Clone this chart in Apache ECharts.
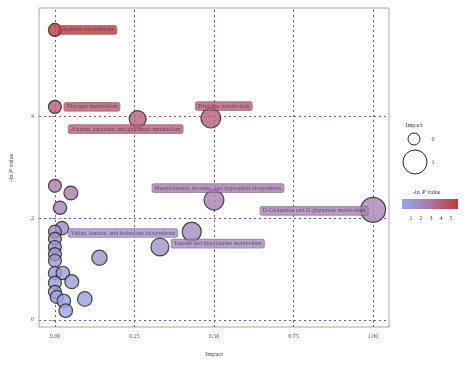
<!DOCTYPE html>
<html><head><meta charset="utf-8">
<script src="https://cdn.jsdelivr.net/npm/echarts@6/dist/echarts.min.js"></script>
<style>html,body{margin:0;padding:0;background:#fff}#c{width:474px;height:366px}</style>
</head><body><div id="c"></div>
<script>
// ---- data ----
const impact = [0, 0, 0.26, 0.49, 0.50, 1.00, 0.43, 0.33, 0, 0.05, 0.016, 0.022, 0, 0, 0, 0, 0, 0.14, 0, 0.025, 0.053, 0, 0, 0.006, 0.028, 0.094, 0.034];
const negLnP = [5.69, 4.18, 3.94, 3.96, 2.35, 2.16, 1.73, 1.43, 2.63, 2.49, 2.20, 1.80, 1.73, 1.59, 1.43, 1.29, 1.16, 1.22, 0.92, 0.92, 0.75, 0.73, 0.55, 0.45, 0.37, 0.41, 0.18];
const pathway = ["Arginine biosynthesis", "Nitrogen metabolism", "Alanine, aspartate, and glutamate metabolism", "Histidine metabolism",
  "Phenylalanine, tyrosine, and tryptophan biosynthesis", "D-Glutamine and D-glutamate metabolism", "Taurine and hypotaurine metabolism",
  "Valine, leucine, and isoleucine biosynthesis", "", "", "", "", "", "", "", "", "", "", "", "", "", "", "", "", "", "", ""];
const xTicks = [0, 0.25, 0.5, 0.75, 1];
const yTicks = [0, 2, 4];
const colorTicks = [1, 2, 3, 4, 5];
const sizeTicks = [0, 1];

// ---- styling ----
const FONT = 'Liberation Serif';
const cMin = 0.1, cMax = 5.7;
const stops = ['#97a6e4', '#a290c6', '#ac76a4', '#b8586a', '#c3383b'];
function hex(c){return [1,3,5].map(i=>parseInt(c.substr(i,2),16));}
function colorFor(v){
  let t = (v - cMin) / (cMax - cMin); t = Math.max(0, Math.min(1, t));
  const p = t * (stops.length - 1); const i = Math.min(Math.floor(p), stops.length - 2); const f = p - i;
  const a = hex(stops[i]), b = hex(stops[i+1]);
  return 'rgb(' + a.map((x,k)=>Math.round(x + (b[k]-x)*f)).join(',') + ')';
}
function sizeFor(imp){ return Math.sqrt(13*13 + (25*25 - 13*13) * imp); }
const labelOffsets = {
  "Arginine biosynthesis": [33, 0],
  "Nitrogen metabolism": [37, 0],
  "Alanine, aspartate, and glutamate metabolism": [-12, 10],
  "Histidine metabolism": [13, -12],
  "Phenylalanine, tyrosine, and tryptophan biosynthesis": [4, -12],
  "D-Glutamine and D-glutamate metabolism": [-59, 1],
  "Taurine and hypotaurine metabolism": [26, 12],
  "Valine, leucine, and isoleucine biosynthesis": [-37, -14]
};

const points = impact.map((x, i) => {
  const col = colorFor(negLnP[i]);
  const item = { value: [x, negLnP[i]], name: pathway[i], symbolSize: sizeFor(x),
    itemStyle: { color: col, borderColor: '#1e1e1e', borderWidth: 1.2 } };
  if (pathway[i]) {
    item.label = { show: true, formatter: pathway[i], position: 'inside', offset: labelOffsets[pathway[i]],
      align: 'center', verticalAlign: 'middle', fontFamily: FONT, fontSize: 6, color: '#4a3446',
      backgroundColor: col, borderColor: 'rgba(90,60,80,0.7)', borderWidth: 0.6, borderRadius: 2, padding: [1.5, 2.5, 1, 2.5] };
  } else item.label = { show: false };
  return item;
});

const chart = echarts.init(document.getElementById('c'), null, { renderer: 'canvas' });
const gridLineStyle = { color: '#6062aa', width: 1, type: [2, 3] };
const legendX0 = 402, legendW = 56;
const graphics = [
  { type: 'text', x: 414, y: 125, style: { text: 'Impact', font: '6px ' + FONT, fill: '#333', align: 'center', verticalAlign: 'middle' } },
  { type: 'text', x: 413, y: 192, style: { text: '-ln ', font: '6px ' + FONT, fill: '#333', align: 'left', verticalAlign: 'middle' } },
  { type: 'text', x: 422, y: 192, style: { text: 'P', font: 'italic 6px ' + FONT, fill: '#333', align: 'left', verticalAlign: 'middle' } },
  { type: 'text', x: 426, y: 192, style: { text: ' value', font: '6px ' + FONT, fill: '#333', align: 'left', verticalAlign: 'middle' } },
  { type: 'rect', shape: { x: legendX0, y: 199, width: legendW, height: 10 },
    style: { fill: new echarts.graphic.LinearGradient(0, 0, 1, 0, stops.map((c, i) => ({ offset: i / (stops.length - 1), color: c }))) } }
];
const sizeY = [139, 162], sizeX = [414, 415];
sizeTicks.forEach((s, i) => {
  graphics.push({ type: 'circle', shape: { cx: sizeX[i], cy: sizeY[i], r: sizeFor(s) / 2 - 0.5 }, style: { fill: 'none', stroke: '#222', lineWidth: 1 } });
  graphics.push({ type: 'text', x: 433, y: sizeY[i], style: { text: String(s), font: '6px ' + FONT, fill: '#444', align: 'center', verticalAlign: 'middle' } });
});
colorTicks.forEach(v => {
  graphics.push({ type: 'text', x: legendX0 + (v - cMin) / (cMax - cMin) * legendW, y: 218,
    style: { text: String(v), font: '6px ' + FONT, fill: '#444', align: 'center', verticalAlign: 'middle' } });
});

chart.setOption({
  animation: false,
  backgroundColor: '#fff',
  grid: { left: 37, right: 85, top: 8, bottom: 39, show: true, borderColor: '#a8a8a8', borderWidth: 1 },
  xAxis: { type: 'value', min: -0.05, max: 1.05, splitLine: { show: false }, axisLine: { show: false },
    axisTick: { show: true, length: 3, lineStyle: { color: '#888' }, customValues: xTicks },
    axisLabel: { customValues: xTicks, formatter: v => v.toFixed(2), fontFamily: FONT, fontSize: 6, color: '#555', margin: 6 },
    name: 'Impact', nameLocation: 'middle', nameGap: 24, nameTextStyle: { fontFamily: FONT, fontSize: 6.5, color: '#444' } },
  yAxis: { type: 'value', min: -0.14, max: 6.12, splitLine: { show: false }, axisLine: { show: false },
    axisTick: { show: true, length: 3, lineStyle: { color: '#888' }, customValues: yTicks },
    axisLabel: { customValues: yTicks, fontFamily: FONT, fontSize: 6, color: '#555', margin: 5 },
    name: '{n|-ln }{i|P}{n| value}', nameLocation: 'middle', nameGap: 24, nameRotate: 90,
    nameTextStyle: { rich: { n: { fontFamily: FONT, fontSize: 6.5, color: '#444' }, i: { fontFamily: FONT, fontSize: 6.5, fontStyle: 'italic', color: '#444' } } } },
  series: [
    { type: 'scatter', data: [], z: 1, zlevel: 0, silent: true,
      markLine: { silent: true, symbol: 'none', label: { show: false }, lineStyle: gridLineStyle,
        data: xTicks.map(v => ({ xAxis: v })).concat(yTicks.map(v => ({ yAxis: v }))) } },
    { type: 'scatter', z: 3, zlevel: 1, data: points }
  ],
  graphic: graphics
});
</script>
</body></html>
